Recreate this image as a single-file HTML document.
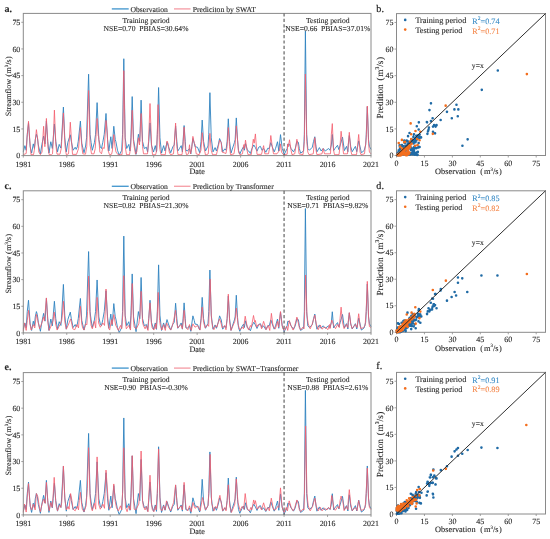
<!DOCTYPE html>
<html><head><meta charset="utf-8"><style>
html,body{margin:0;padding:0;background:#fff;width:550px;height:539px;overflow:hidden}
svg{display:block;will-change:transform}
text{text-rendering:geometricPrecision;font-family:"Liberation Serif", serif;fill:#262626;stroke:#262626;stroke-width:0.1px}
</style></head><body>
<svg width="550" height="539" viewBox="0 0 550 539">
<defs><filter id="soft" x="-5%" y="-5%" width="110%" height="110%"><feGaussianBlur stdDeviation="0.3"/></filter></defs>
<rect width="550" height="539" fill="#fff"/>
<g><polyline points="23.30,151.87 24.90,145.65 26.20,150.27 27.25,134.27 28.50,122.89 30.15,146.71 31.60,153.11 33.30,143.87 34.40,148.49 35.25,139.60 36.40,134.27 37.35,137.29 38.30,144.94 40.40,154.00 41.85,144.76 43.60,136.05 45.00,143.87 46.40,121.12 47.75,141.38 48.95,153.11 50.80,141.74 52.35,148.49 53.15,139.25 54.40,123.96 55.75,141.38 57.50,151.87 59.20,144.40 60.90,148.13 61.45,141.74 63.40,107.07 64.75,137.82 66.30,151.87 67.85,142.27 70.30,134.80 71.25,141.02 73.10,150.27 75.20,147.25 76.20,149.38 77.30,146.89 78.25,141.38 80.40,121.12 81.75,143.16 84.00,152.76 85.60,146.00 86.55,137.82 88.60,74.19 90.05,134.27 91.10,142.62 92.30,150.27 94.40,142.62 95.55,134.27 97.10,102.63 98.85,139.60 100.30,146.89 101.50,148.49 102.80,142.27 104.25,134.27 106.00,113.47 107.55,139.60 108.85,150.98 110.80,136.76 112.10,148.49 113.80,126.27 115.25,139.60 115.90,141.74 117.50,150.27 119.20,155.24 121.70,150.27 122.55,134.27 123.80,58.73 125.15,137.82 126.70,148.49 128.80,144.40 130.00,150.98 130.95,137.82 132.20,96.59 133.55,139.60 136.05,154.36 138.40,134.27 139.80,141.38 141.10,100.14 142.55,141.38 144.30,148.49 146.40,147.25 147.60,152.04 148.75,141.38 150.00,122.89 151.45,144.94 153.50,152.04 155.30,145.65 156.50,152.04 157.35,134.27 158.60,87.52 159.95,137.82 161.50,153.11 163.60,145.65 165.05,150.98 167.00,142.27 168.45,146.71 170.70,152.76 172.80,146.89 174.25,144.94 175.60,125.92 176.85,141.38 177.80,150.98 179.50,148.49 181.20,145.65 182.40,151.87 183.05,141.38 184.10,125.56 185.25,141.38 185.80,150.27 187.40,150.98 189.50,148.49 190.80,154.00 191.75,146.71 192.90,138.54 194.25,143.16 195.00,146.71 197.50,147.25 199.70,152.76 201.05,141.38 202.20,120.05 203.55,141.38 205.50,150.98 208.00,146.00 208.75,134.27 209.90,92.68 211.25,137.82 213.00,151.87 215.10,147.60 216.40,150.98 218.25,144.94 219.60,138.54 221.25,142.62 222.70,151.87 224.80,148.85 226.00,150.27 227.15,141.38 228.30,118.81 229.55,141.38 231.00,153.11 234.40,142.62 235.15,139.60 236.30,117.92 237.55,140.14 238.50,150.27 239.80,154.00 241.90,149.38 243.60,146.71 244.30,150.27 245.50,143.51 247.40,150.27 248.70,150.98 250.40,153.47 252.00,148.49 253.80,144.94 255.40,147.60 257.00,151.16 258.70,147.25 260.40,146.36 262.00,150.27 263.60,148.49 265.80,152.22 267.90,148.13 269.25,148.49 270.80,142.62 272.25,146.71 274.20,151.87 275.55,148.49 277.50,141.74 278.80,150.98 280.50,134.63 282.25,148.49 284.20,154.36 287.20,148.49 287.70,144.05 289.50,144.40 291.00,148.49 293.50,151.87 295.25,148.49 296.90,141.38 298.35,142.27 299.30,148.49 300.60,153.11 303.60,150.98 304.35,134.27 305.40,31.18 306.65,134.27 307.80,148.49 309.40,150.27 312.30,147.25 313.55,141.38 314.80,136.76 316.05,146.71 316.90,151.87 319.40,147.60 321.10,150.98 323.20,148.49 325.30,150.98 328.60,148.49 330.00,150.27 331.35,144.94 332.30,134.45 333.65,150.62 335.00,148.49 337.50,145.29 338.80,149.56 340.25,144.94 342.50,137.11 344.35,150.62 346.50,146.36 347.90,151.69 348.25,144.94 349.30,135.51 350.75,146.71 352.20,151.69 355.40,146.36 356.75,151.69 358.70,140.85 360.05,146.71 361.40,152.76 364.10,150.62 365.70,144.94 366.25,134.27 367.30,106.72 368.55,139.60 369.40,146.36 371.00,149.38" fill="none" stroke="#2f82bf" stroke-width="0.9" stroke-linejoin="round"/>
<polyline points="23.30,154.71 26.20,153.47 27.05,137.82 28.50,121.29 29.85,141.38 31.00,154.71 33.50,154.71 34.35,150.27 36.40,129.65 37.75,139.60 38.80,152.04 40.40,154.71 42.05,152.04 43.60,126.27 44.85,146.71 45.05,143.16 46.40,118.45 48.05,148.49 49.20,154.71 51.50,154.71 52.50,153.82 53.25,141.38 54.40,110.10 55.85,144.94 57.00,154.18 60.00,154.18 61.25,148.49 63.40,112.94 65.05,146.71 66.30,154.71 68.55,153.82 70.30,122.18 71.55,141.38 72.50,154.36 76.50,154.36 78.55,148.49 80.40,127.52 81.45,141.38 81.90,147.25 82.80,153.82 85.50,154.18 86.75,146.71 88.60,90.54 90.05,144.94 91.50,153.82 94.00,153.82 95.25,148.49 97.10,118.45 98.20,136.05 98.60,136.05 99.85,152.04 101.50,153.82 102.80,147.60 104.25,148.49 106.00,120.41 107.25,133.03 108.00,150.27 109.50,154.71 111.60,154.18 112.35,150.98 113.80,134.63 115.05,146.71 116.00,152.04 118.00,154.71 122.00,154.71 122.75,141.38 123.80,70.64 125.25,146.71 126.50,154.71 129.50,154.71 130.75,146.71 132.20,110.27 133.45,141.38 134.20,146.89 135.50,154.18 136.75,152.04 138.40,137.82 139.50,144.94 141.10,113.47 142.55,146.71 143.50,153.82 147.50,153.82 148.55,141.38 150.00,103.52 151.55,144.94 152.50,154.71 155.60,154.71 156.75,150.27 158.10,104.59 159.45,144.94 159.90,149.38 161.00,154.71 165.30,154.71 165.95,148.49 167.00,141.02 168.45,144.40 169.20,152.04 170.50,154.71 173.50,153.82 174.25,143.51 175.60,123.07 176.85,146.71 178.00,154.71 182.00,154.71 182.95,146.71 184.10,127.16 185.45,150.27 186.50,154.71 188.50,153.82 189.50,144.76 190.50,153.82 191.75,148.49 192.90,136.40 194.25,143.16 195.00,144.40 196.20,153.82 199.20,154.71 200.95,150.27 202.20,132.67 203.55,144.94 205.50,155.24 208.25,153.82 209.90,133.38 211.25,150.27 212.50,154.71 216.40,154.71 218.35,146.71 219.60,140.14 221.25,142.62 222.00,152.04 226.00,153.47 227.05,146.71 228.30,127.52 229.55,146.71 230.50,154.71 234.00,153.82 235.05,146.71 236.30,125.92 237.55,140.14 238.50,152.04 239.80,154.71 242.50,153.82 243.60,145.11 244.10,144.40 244.55,148.49 245.50,140.14 247.05,150.27 248.00,154.71 251.25,154.71 253.30,139.25 254.20,143.16 255.40,133.91 256.55,148.49 257.00,154.36 261.50,154.36 263.60,145.65 264.80,153.82 268.50,153.82 269.75,146.71 270.80,135.51 272.25,146.71 273.50,153.82 277.00,153.82 279.50,150.27 280.50,143.87 281.50,152.04 283.50,154.71 287.20,154.18 287.70,144.05 288.35,146.71 289.50,139.78 291.05,150.27 292.00,154.71 294.75,153.82 296.90,139.25 298.25,146.71 299.00,153.82 303.00,154.71 304.35,141.38 305.40,74.01 306.75,141.38 307.80,152.04 309.00,154.71 313.25,153.82 314.80,137.65 316.05,150.27 316.90,154.71 322.00,153.82 323.20,148.49 324.50,153.82 330.50,153.82 331.35,134.27 332.30,123.60 333.55,150.27 334.50,154.71 339.00,154.71 339.95,146.71 341.10,131.25 342.45,143.16 343.50,153.82 347.50,153.82 348.25,144.94 349.30,132.31 350.75,150.27 351.80,154.71 356.50,154.71 357.65,144.94 358.70,134.45 360.05,152.04 361.00,154.71 364.50,153.82 365.70,143.16 366.25,137.82 367.30,106.01 368.55,143.16 369.40,152.04 371.00,153.82" fill="none" stroke="#f45d6d" stroke-width="0.9" stroke-opacity="0.9" stroke-linejoin="round"/></g>
<rect x="23.30" y="13.40" width="347.70" height="142.20" fill="none" stroke="#8a8a8a" stroke-width="1"/>
<line x1="284.07" y1="13.40" x2="284.07" y2="155.60" stroke="#555" stroke-width="1.1" stroke-dasharray="3.2,2.2"/>
<line x1="21.30" y1="155.60" x2="23.30" y2="155.60" stroke="#8a8a8a" stroke-width="0.8"/>
<text x="20.30" y="158.30" font-size="7.9" text-anchor="end">0</text>
<line x1="21.30" y1="128.94" x2="23.30" y2="128.94" stroke="#8a8a8a" stroke-width="0.8"/>
<text x="20.30" y="131.64" font-size="7.9" text-anchor="end">15</text>
<line x1="21.30" y1="102.28" x2="23.30" y2="102.28" stroke="#8a8a8a" stroke-width="0.8"/>
<text x="20.30" y="104.98" font-size="7.9" text-anchor="end">30</text>
<line x1="21.30" y1="75.61" x2="23.30" y2="75.61" stroke="#8a8a8a" stroke-width="0.8"/>
<text x="20.30" y="78.31" font-size="7.9" text-anchor="end">45</text>
<line x1="21.30" y1="48.95" x2="23.30" y2="48.95" stroke="#8a8a8a" stroke-width="0.8"/>
<text x="20.30" y="51.65" font-size="7.9" text-anchor="end">60</text>
<line x1="21.30" y1="22.29" x2="23.30" y2="22.29" stroke="#8a8a8a" stroke-width="0.8"/>
<text x="20.30" y="24.99" font-size="7.9" text-anchor="end">75</text>
<line x1="23.30" y1="155.60" x2="23.30" y2="157.60" stroke="#8a8a8a" stroke-width="0.8"/>
<text x="23.30" y="167.00" font-size="7.9" text-anchor="middle">1981</text>
<line x1="66.76" y1="155.60" x2="66.76" y2="157.60" stroke="#8a8a8a" stroke-width="0.8"/>
<text x="66.76" y="167.00" font-size="7.9" text-anchor="middle">1986</text>
<line x1="110.22" y1="155.60" x2="110.22" y2="157.60" stroke="#8a8a8a" stroke-width="0.8"/>
<text x="110.22" y="167.00" font-size="7.9" text-anchor="middle">1991</text>
<line x1="153.69" y1="155.60" x2="153.69" y2="157.60" stroke="#8a8a8a" stroke-width="0.8"/>
<text x="153.69" y="167.00" font-size="7.9" text-anchor="middle">1996</text>
<line x1="197.15" y1="155.60" x2="197.15" y2="157.60" stroke="#8a8a8a" stroke-width="0.8"/>
<text x="197.15" y="167.00" font-size="7.9" text-anchor="middle">2001</text>
<line x1="240.61" y1="155.60" x2="240.61" y2="157.60" stroke="#8a8a8a" stroke-width="0.8"/>
<text x="240.61" y="167.00" font-size="7.9" text-anchor="middle">2006</text>
<line x1="284.07" y1="155.60" x2="284.07" y2="157.60" stroke="#8a8a8a" stroke-width="0.8"/>
<text x="284.07" y="167.00" font-size="7.9" text-anchor="middle">2011</text>
<line x1="327.54" y1="155.60" x2="327.54" y2="157.60" stroke="#8a8a8a" stroke-width="0.8"/>
<text x="327.54" y="167.00" font-size="7.9" text-anchor="middle">2016</text>
<line x1="371.00" y1="155.60" x2="371.00" y2="157.60" stroke="#8a8a8a" stroke-width="0.8"/>
<text x="371.00" y="167.00" font-size="7.9" text-anchor="middle">2021</text>
<text x="197.15" y="174.20" font-size="8.2" text-anchor="middle">Date</text>
<text transform="translate(11.3,116.20) rotate(-90)" font-size="8.0">Streamflow<tspan dx="2.40">(</tspan><tspan dx="0.40">m</tspan><tspan font-size="4.80" dy="-3.04">3</tspan><tspan dy="3.04">/s</tspan><tspan dx="0.40">)</tspan></text>
<text x="4.5" y="11.70" font-size="10" font-weight="bold">a.</text>
<line x1="111.8" y1="8.90" x2="128.7" y2="8.90" stroke="#4b9bd0" stroke-width="1.4"/>
<text x="130.50" y="11.70" font-size="7.65" text-anchor="start" xml:space="preserve" >Observation</text>
<line x1="174" y1="8.90" x2="190.5" y2="8.90" stroke="#f6a2aa" stroke-width="1.4"/>
<text x="192.70" y="11.70" font-size="7.70" text-anchor="start" xml:space="preserve" >Prediciton by SWAT</text>
<text x="146.00" y="22.60" font-size="7.60" text-anchor="middle" xml:space="preserve" >Training period</text>
<text x="146.00" y="30.70" font-size="7.60" text-anchor="middle" xml:space="preserve" >NSE=0.70  PBIAS=30.64%</text>
<text x="327.80" y="22.60" font-size="7.60" text-anchor="middle" xml:space="preserve" >Testing period</text>
<text x="327.80" y="30.70" font-size="7.60" text-anchor="middle" xml:space="preserve" >NSE=0.66  PBIAS=37.01%</text>
<g><polyline points="23.30,329.17 24.90,322.95 26.20,327.57 27.25,311.58 28.50,300.22 30.15,324.02 31.60,330.41 33.30,321.18 34.40,325.79 35.25,316.91 36.40,311.58 37.35,314.60 38.30,322.24 40.40,331.30 41.85,322.06 43.60,313.36 45.00,321.18 46.40,298.44 47.75,318.69 48.95,330.41 50.80,319.05 52.35,325.79 53.15,316.56 54.40,301.28 55.75,318.69 57.50,329.17 59.20,321.71 60.90,325.44 61.45,319.05 63.40,284.41 64.75,315.14 66.30,329.17 67.85,319.58 70.30,312.12 71.25,318.33 73.10,327.57 75.20,324.55 76.20,326.68 77.30,324.20 78.25,318.69 80.40,298.44 81.75,320.47 84.00,330.06 85.60,323.31 86.55,315.14 88.60,251.55 90.05,311.58 91.10,319.93 92.30,327.57 94.40,319.93 95.55,311.58 97.10,279.97 98.85,316.91 100.30,324.20 101.50,325.79 102.80,319.58 104.25,311.58 106.00,290.80 107.55,316.91 108.85,328.28 110.80,314.07 112.10,325.79 113.80,303.59 115.25,316.91 115.90,319.05 117.50,327.57 119.20,332.54 121.70,327.57 122.55,311.58 123.80,236.09 125.15,315.14 126.70,325.79 128.80,321.71 130.00,328.28 130.95,315.14 132.20,273.93 133.55,316.91 136.05,331.66 138.40,311.58 139.80,318.69 141.10,277.48 142.55,318.69 144.30,325.79 146.40,324.55 147.60,329.35 148.75,318.69 150.00,300.22 151.45,322.24 153.50,329.35 155.30,322.95 156.50,329.35 157.35,311.58 158.60,264.87 159.95,315.14 161.50,330.41 163.60,322.95 165.05,328.28 167.00,319.58 168.45,324.02 170.70,330.06 172.80,324.20 174.25,322.24 175.60,303.24 176.85,318.69 177.80,328.28 179.50,325.79 181.20,322.95 182.40,329.17 183.05,318.69 184.10,302.88 185.25,318.69 185.80,327.57 187.40,328.28 189.50,325.79 190.80,331.30 191.75,324.02 192.90,315.85 194.25,320.47 195.00,324.02 197.50,324.55 199.70,330.06 201.05,318.69 202.20,297.38 203.55,318.69 205.50,328.28 208.00,323.31 208.75,311.58 209.90,270.02 211.25,315.14 213.00,329.17 215.10,324.91 216.40,328.28 218.25,322.24 219.60,315.85 221.25,319.93 222.70,329.17 224.80,326.15 226.00,327.57 227.15,318.69 228.30,296.13 229.55,318.69 231.00,330.41 234.40,319.93 235.15,316.91 236.30,295.24 237.55,317.45 238.50,327.57 239.80,331.30 241.90,326.68 243.60,324.02 244.30,327.57 245.50,320.82 247.40,327.57 248.70,328.28 250.40,330.77 252.00,325.79 253.80,322.24 255.40,324.91 257.00,328.46 258.70,324.55 260.40,323.66 262.00,327.57 263.60,325.79 265.80,329.53 267.90,325.44 269.25,325.79 270.80,319.93 272.25,324.02 274.20,329.17 275.55,325.79 277.50,319.05 278.80,328.28 280.50,311.94 282.25,325.79 284.20,331.66 287.20,325.79 287.70,321.35 289.50,321.71 291.00,325.79 293.50,329.17 295.25,325.79 296.90,318.69 298.35,319.58 299.30,325.79 300.60,330.41 303.60,328.28 304.35,311.58 305.40,208.56 306.65,311.58 307.80,325.79 309.40,327.57 312.30,324.55 313.55,318.69 314.80,314.07 316.05,324.02 316.90,329.17 319.40,324.91 321.10,328.28 323.20,325.79 325.30,328.28 328.60,325.79 330.00,327.57 331.35,322.24 332.30,311.76 333.65,327.93 335.00,325.79 337.50,322.60 338.80,326.86 340.25,322.24 342.50,314.43 344.35,327.93 346.50,323.66 347.90,328.99 348.25,322.24 349.30,312.83 350.75,324.02 352.20,328.99 355.40,323.66 356.75,328.99 358.70,318.16 360.05,324.02 361.40,330.06 364.10,327.93 365.70,322.24 366.25,311.58 367.30,284.05 368.55,316.91 369.40,323.66 371.00,326.68" fill="none" stroke="#2f82bf" stroke-width="0.9" stroke-linejoin="round"/>
<polyline points="23.30,331.30 24.50,322.95 26.20,330.41 27.25,320.47 28.50,310.34 29.95,324.02 31.20,330.06 33.30,324.55 34.75,327.93 36.40,314.25 37.75,320.47 39.60,328.81 41.85,322.95 43.60,316.91 44.45,320.82 45.25,311.58 46.40,297.91 47.85,322.24 49.20,330.41 51.70,324.55 53.05,320.47 54.20,312.12 55.65,324.02 57.10,330.06 60.00,324.55 61.70,320.47 62.35,315.14 63.40,301.28 64.85,322.24 66.30,329.17 68.10,325.44 69.35,322.24 70.60,318.87 71.85,324.02 72.70,328.81 74.80,329.70 76.90,324.55 78.50,327.93 79.25,318.69 80.40,306.26 81.75,324.02 82.70,327.93 84.00,330.06 85.60,323.84 86.90,324.73 87.55,311.58 88.60,276.06 90.05,315.14 91.10,325.44 92.30,328.81 94.40,321.35 95.70,327.93 96.05,318.69 97.10,297.38 98.45,320.47 98.60,322.95 100.30,327.22 102.80,322.95 104.50,325.44 105.05,315.14 106.00,289.03 107.45,318.69 108.60,327.93 109.65,330.06 111.60,319.58 112.10,324.55 113.80,314.60 115.65,325.08 118.40,330.41 120.50,325.44 121.70,328.81 122.75,315.14 123.80,275.70 125.25,321.35 126.30,328.81 128.80,325.44 130.50,330.06 131.15,315.14 132.20,283.52 133.55,322.24 134.20,327.22 136.30,328.81 138.80,323.84 139.95,315.14 141.10,291.34 142.55,322.24 143.40,325.44 145.10,328.81 146.40,325.44 148.00,330.41 148.75,318.69 150.00,302.88 151.45,324.02 152.20,327.93 153.90,330.06 155.60,323.84 156.10,328.81 157.15,318.69 158.20,292.40 159.55,320.47 160.30,325.44 161.90,330.06 163.60,324.55 165.30,330.41 166.50,322.95 168.60,327.22 170.70,330.06 172.40,325.44 173.65,320.47 175.60,310.34 176.95,324.02 177.80,327.93 180.80,324.55 182.40,328.81 183.05,322.24 184.10,310.34 185.45,324.02 186.20,327.93 187.90,329.70 189.50,324.55 191.20,330.41 192.90,323.84 195.00,327.22 197.50,325.44 199.20,328.81 200.10,330.06 201.05,320.47 202.20,307.14 203.55,322.24 205.10,327.93 207.60,324.55 208.70,326.33 209.15,311.58 210.10,279.08 211.45,318.69 212.60,327.22 213.90,329.70 215.60,325.44 216.80,327.22 218.35,322.24 219.70,318.87 221.25,324.02 222.20,327.93 224.80,325.44 226.00,329.70 227.15,318.69 228.30,294.18 229.65,322.24 231.00,330.41 233.10,325.44 234.80,321.35 235.25,318.69 236.30,308.03 237.95,323.84 239.80,330.06 242.30,327.22 243.45,328.81 245.20,316.20 247.25,327.22 248.70,330.06 250.40,325.44 251.35,327.22 253.50,315.49 254.75,322.24 255.40,320.47 256.60,327.22 257.90,324.91 260.40,324.55 261.60,328.81 263.60,321.35 266.20,329.70 268.30,325.44 269.75,330.41 271.40,313.36 272.75,324.02 273.80,327.93 275.40,328.81 277.50,321.35 278.55,327.22 280.50,311.58 281.85,324.02 282.60,327.93 284.20,330.41 286.70,326.33 287.70,330.41 289.30,320.47 291.00,325.79 293.10,330.06 294.55,326.33 296.90,317.09 298.35,322.95 299.30,327.57 300.60,330.06 302.70,327.22 304.00,328.81 304.55,315.14 305.60,274.99 306.95,315.14 308.20,323.84 310.20,328.81 312.05,324.55 314.80,315.14 316.25,324.02 317.40,327.22 318.20,329.70 320.30,325.08 322.00,329.17 324.00,327.22 326.10,327.93 327.80,329.70 329.50,324.55 329.95,328.64 331.80,320.11 334.15,326.51 335.50,328.64 337.70,324.37 339.30,327.57 340.05,318.69 341.10,307.14 342.45,322.24 344.10,328.64 346.30,324.37 347.90,327.57 348.25,322.24 349.30,312.65 350.75,324.02 352.20,328.64 355.40,324.37 357.10,327.57 357.65,322.24 358.70,313.72 360.05,325.79 360.80,328.64 363.50,327.57 365.10,325.44 366.15,311.58 367.30,281.39 368.55,316.91 369.40,326.51 371.00,327.57" fill="none" stroke="#f45d6d" stroke-width="0.9" stroke-opacity="0.9" stroke-linejoin="round"/></g>
<rect x="23.30" y="190.80" width="347.70" height="142.10" fill="none" stroke="#8a8a8a" stroke-width="1"/>
<line x1="284.07" y1="190.80" x2="284.07" y2="332.90" stroke="#555" stroke-width="1.1" stroke-dasharray="3.2,2.2"/>
<line x1="21.30" y1="332.90" x2="23.30" y2="332.90" stroke="#8a8a8a" stroke-width="0.8"/>
<text x="20.30" y="335.60" font-size="7.9" text-anchor="end">0</text>
<line x1="21.30" y1="306.26" x2="23.30" y2="306.26" stroke="#8a8a8a" stroke-width="0.8"/>
<text x="20.30" y="308.96" font-size="7.9" text-anchor="end">15</text>
<line x1="21.30" y1="279.61" x2="23.30" y2="279.61" stroke="#8a8a8a" stroke-width="0.8"/>
<text x="20.30" y="282.31" font-size="7.9" text-anchor="end">30</text>
<line x1="21.30" y1="252.97" x2="23.30" y2="252.97" stroke="#8a8a8a" stroke-width="0.8"/>
<text x="20.30" y="255.67" font-size="7.9" text-anchor="end">45</text>
<line x1="21.30" y1="226.32" x2="23.30" y2="226.32" stroke="#8a8a8a" stroke-width="0.8"/>
<text x="20.30" y="229.02" font-size="7.9" text-anchor="end">60</text>
<line x1="21.30" y1="199.68" x2="23.30" y2="199.68" stroke="#8a8a8a" stroke-width="0.8"/>
<text x="20.30" y="202.38" font-size="7.9" text-anchor="end">75</text>
<line x1="23.30" y1="332.90" x2="23.30" y2="334.90" stroke="#8a8a8a" stroke-width="0.8"/>
<text x="23.30" y="344.30" font-size="7.9" text-anchor="middle">1981</text>
<line x1="66.76" y1="332.90" x2="66.76" y2="334.90" stroke="#8a8a8a" stroke-width="0.8"/>
<text x="66.76" y="344.30" font-size="7.9" text-anchor="middle">1986</text>
<line x1="110.22" y1="332.90" x2="110.22" y2="334.90" stroke="#8a8a8a" stroke-width="0.8"/>
<text x="110.22" y="344.30" font-size="7.9" text-anchor="middle">1991</text>
<line x1="153.69" y1="332.90" x2="153.69" y2="334.90" stroke="#8a8a8a" stroke-width="0.8"/>
<text x="153.69" y="344.30" font-size="7.9" text-anchor="middle">1996</text>
<line x1="197.15" y1="332.90" x2="197.15" y2="334.90" stroke="#8a8a8a" stroke-width="0.8"/>
<text x="197.15" y="344.30" font-size="7.9" text-anchor="middle">2001</text>
<line x1="240.61" y1="332.90" x2="240.61" y2="334.90" stroke="#8a8a8a" stroke-width="0.8"/>
<text x="240.61" y="344.30" font-size="7.9" text-anchor="middle">2006</text>
<line x1="284.07" y1="332.90" x2="284.07" y2="334.90" stroke="#8a8a8a" stroke-width="0.8"/>
<text x="284.07" y="344.30" font-size="7.9" text-anchor="middle">2011</text>
<line x1="327.54" y1="332.90" x2="327.54" y2="334.90" stroke="#8a8a8a" stroke-width="0.8"/>
<text x="327.54" y="344.30" font-size="7.9" text-anchor="middle">2016</text>
<line x1="371.00" y1="332.90" x2="371.00" y2="334.90" stroke="#8a8a8a" stroke-width="0.8"/>
<text x="371.00" y="344.30" font-size="7.9" text-anchor="middle">2021</text>
<text x="197.15" y="351.50" font-size="8.2" text-anchor="middle">Date</text>
<text transform="translate(11.3,293.60) rotate(-90)" font-size="8.0">Streamflow<tspan dx="2.40">(</tspan><tspan dx="0.40">m</tspan><tspan font-size="4.80" dy="-3.04">3</tspan><tspan dy="3.04">/s</tspan><tspan dx="0.40">)</tspan></text>
<text x="4.5" y="189.20" font-size="10" font-weight="bold">c.</text>
<line x1="111.8" y1="186.30" x2="128.7" y2="186.30" stroke="#4b9bd0" stroke-width="1.4"/>
<text x="130.50" y="189.10" font-size="7.65" text-anchor="start" xml:space="preserve" >Observation</text>
<line x1="174" y1="186.30" x2="190.5" y2="186.30" stroke="#f6a2aa" stroke-width="1.4"/>
<text x="192.70" y="189.10" font-size="7.70" text-anchor="start" xml:space="preserve" >Prediction by Transformer</text>
<text x="146.00" y="200.00" font-size="7.60" text-anchor="middle" xml:space="preserve" >Training period</text>
<text x="146.00" y="208.10" font-size="7.60" text-anchor="middle" xml:space="preserve" >NSE=0.82  PBIAS=21.30%</text>
<text x="327.80" y="200.00" font-size="7.60" text-anchor="middle" xml:space="preserve" >Testing period</text>
<text x="327.80" y="208.10" font-size="7.60" text-anchor="middle" xml:space="preserve" >NSE=0.71  PBIAS=9.82%</text>
<g><polyline points="23.30,511.16 24.90,504.94 26.20,509.56 27.25,493.56 28.50,482.17 30.15,506.01 31.60,512.41 33.30,503.16 34.40,507.78 35.25,498.89 36.40,493.56 37.35,496.58 38.30,504.23 40.40,513.30 41.85,504.05 43.60,495.33 45.00,503.16 46.40,480.39 47.75,500.67 48.95,512.41 50.80,501.03 52.35,507.78 53.15,498.54 54.40,483.24 55.75,500.67 57.50,511.16 59.20,503.69 60.90,507.43 61.45,501.03 63.40,466.34 64.75,497.11 66.30,511.16 67.85,501.56 70.30,494.09 71.25,500.31 73.10,509.56 75.20,506.54 76.20,508.67 77.30,506.18 78.25,500.67 80.40,480.39 81.75,502.45 84.00,512.05 85.60,505.29 86.55,497.11 88.60,433.43 90.05,493.56 91.10,501.92 92.30,509.56 94.40,501.92 95.55,493.56 97.10,461.89 98.85,498.89 100.30,506.18 101.50,507.78 102.80,501.56 104.25,493.56 106.00,472.74 107.55,498.89 108.85,510.28 110.80,496.05 112.10,507.78 113.80,485.55 115.25,498.89 115.90,501.03 117.50,509.56 119.20,514.54 121.70,509.56 122.55,493.56 123.80,417.96 125.15,497.11 126.70,507.78 128.80,503.69 130.00,510.28 130.95,497.11 132.20,455.85 133.55,498.89 136.05,513.65 138.40,493.56 139.80,500.67 141.10,459.40 142.55,500.67 144.30,507.78 146.40,506.54 147.60,511.34 148.75,500.67 150.00,482.17 151.45,504.23 153.50,511.34 155.30,504.94 156.50,511.34 157.35,493.56 158.60,446.77 159.95,497.11 161.50,512.41 163.60,504.94 165.05,510.28 167.00,501.56 168.45,506.01 170.70,512.05 172.80,506.18 174.25,504.23 175.60,485.19 176.85,500.67 177.80,510.28 179.50,507.78 181.20,504.94 182.40,511.16 183.05,500.67 184.10,484.84 185.25,500.67 185.80,509.56 187.40,510.28 189.50,507.78 190.80,513.30 191.75,506.01 192.90,497.82 194.25,502.45 195.00,506.01 197.50,506.54 199.70,512.05 201.05,500.67 202.20,479.32 203.55,500.67 205.50,510.28 208.00,505.29 208.75,493.56 209.90,451.93 211.25,497.11 213.00,511.16 215.10,506.90 216.40,510.28 218.25,504.23 219.60,497.82 221.25,501.92 222.70,511.16 224.80,508.14 226.00,509.56 227.15,500.67 228.30,478.08 229.55,500.67 231.00,512.41 234.40,501.92 235.15,498.89 236.30,477.19 237.55,499.42 238.50,509.56 239.80,513.30 241.90,508.67 243.60,506.01 244.30,509.56 245.50,502.80 247.40,509.56 248.70,510.28 250.40,512.77 252.00,507.78 253.80,504.23 255.40,506.90 257.00,510.45 258.70,506.54 260.40,505.65 262.00,509.56 263.60,507.78 265.80,511.52 267.90,507.43 269.25,507.78 270.80,501.92 272.25,506.01 274.20,511.16 275.55,507.78 277.50,501.03 278.80,510.28 280.50,493.91 282.25,507.78 284.20,513.65 287.20,507.78 287.70,503.34 289.50,503.69 291.00,507.78 293.50,511.16 295.25,507.78 296.90,500.67 298.35,501.56 299.30,507.78 300.60,512.41 303.60,510.28 304.35,493.56 305.40,390.39 306.65,493.56 307.80,507.78 309.40,509.56 312.30,506.54 313.55,500.67 314.80,496.05 316.05,506.01 316.90,511.16 319.40,506.90 321.10,510.28 323.20,507.78 325.30,510.28 328.60,507.78 330.00,509.56 331.35,504.23 332.30,493.73 333.65,509.92 335.00,507.78 337.50,504.58 338.80,508.85 340.25,504.23 342.50,496.40 344.35,509.92 346.50,505.65 347.90,510.99 348.25,504.23 349.30,494.80 350.75,506.01 352.20,510.99 355.40,505.65 356.75,510.99 358.70,500.14 360.05,506.01 361.40,512.05 364.10,509.92 365.70,504.23 366.25,493.56 367.30,465.98 368.55,498.89 369.40,505.65 371.00,508.67" fill="none" stroke="#2f82bf" stroke-width="0.9" stroke-linejoin="round"/>
<polyline points="23.30,512.41 24.50,504.05 26.20,512.05 27.25,497.11 28.50,483.59 29.75,500.67 30.40,506.54 31.60,509.92 33.30,504.05 35.15,509.92 36.40,493.56 37.75,496.58 39.60,508.32 40.40,511.70 41.85,504.94 43.60,499.07 45.25,503.34 45.45,497.11 46.40,482.35 47.85,502.45 49.20,510.81 50.80,502.45 52.10,507.43 53.05,497.11 54.20,477.37 55.65,500.67 56.30,506.54 57.50,510.81 59.60,504.94 60.90,507.43 61.70,502.45 62.35,490.00 63.40,465.98 64.85,498.89 66.30,509.92 68.10,506.54 69.05,509.21 70.60,493.56 71.65,499.07 73.10,509.21 75.20,510.81 77.30,506.18 78.50,509.92 79.25,500.67 80.40,492.31 81.65,504.23 82.30,509.21 84.00,511.70 86.10,505.83 87.35,488.22 88.60,447.66 90.05,497.11 91.10,506.54 92.30,510.81 94.40,503.34 95.70,509.21 96.05,493.56 97.10,456.91 98.45,500.67 98.60,504.05 100.30,509.21 102.80,504.05 104.50,508.32 105.05,493.56 106.00,470.08 107.65,493.20 108.40,504.23 109.50,509.21 111.60,505.83 112.10,504.94 112.75,497.11 113.80,483.95 115.25,501.56 116.50,507.78 118.40,510.81 120.50,505.83 121.70,509.92 122.75,490.00 123.80,447.84 125.15,498.89 125.50,507.43 127.10,511.70 128.80,505.83 130.50,509.92 131.15,493.56 132.20,455.67 133.55,500.67 134.20,509.21 135.90,509.92 138.80,504.05 139.95,490.00 141.10,451.04 142.55,500.67 143.40,506.54 145.10,509.92 146.40,506.54 148.00,511.70 148.75,497.11 150.00,475.23 151.45,502.45 152.20,509.21 153.90,511.70 155.60,505.83 156.10,509.92 157.25,493.56 158.60,449.09 159.95,498.89 160.30,508.32 161.90,510.81 163.60,505.83 165.05,509.92 166.50,500.85 168.85,508.32 170.70,510.81 172.40,505.83 173.65,502.45 175.60,484.84 176.95,502.45 177.80,509.21 181.20,505.83 182.40,509.92 183.05,500.67 184.10,482.35 185.45,502.45 186.20,509.21 187.90,510.81 189.50,505.83 191.20,511.70 192.90,502.45 195.00,508.32 197.90,506.18 199.60,509.21 200.10,510.81 201.35,504.23 202.60,497.47 203.85,504.23 205.50,509.92 208.00,505.83 209.05,490.00 210.10,454.42 211.65,503.34 213.90,510.81 215.60,506.54 216.80,508.32 218.55,500.67 219.90,495.33 221.45,504.23 222.70,510.81 224.80,507.43 226.00,510.81 227.15,500.67 228.30,484.84 229.75,506.01 231.40,512.41 233.50,507.43 234.80,504.05 235.25,493.56 236.30,478.97 237.95,502.45 240.20,510.81 241.90,506.54 243.60,507.43 243.70,509.21 245.20,493.56 246.55,504.23 247.40,509.21 249.50,510.81 250.80,507.43 251.75,509.92 253.70,499.96 254.60,504.23 255.40,500.67 257.25,509.21 259.60,506.54 261.60,509.92 263.60,502.80 265.80,510.81 267.90,507.43 269.35,510.81 271.30,498.18 272.75,506.01 273.80,509.92 275.40,509.92 277.50,506.54 278.80,507.43 279.45,500.67 280.50,487.86 281.95,506.01 283.00,509.92 284.20,512.41 286.30,507.43 287.45,510.81 289.20,500.85 291.25,507.78 293.10,510.81 294.55,508.32 296.90,499.96 298.35,504.05 299.30,509.56 300.60,511.70 302.70,509.21 304.00,509.92 304.55,490.00 305.60,425.96 306.95,493.56 308.20,505.83 310.20,510.81 312.55,506.54 314.80,498.18 316.25,506.01 317.40,509.21 318.20,510.81 320.30,507.43 322.00,510.81 324.50,508.32 327.00,509.92 328.60,507.43 330.30,509.21 331.35,498.89 331.80,495.51 334.15,509.56 335.50,510.10 337.70,506.36 339.30,508.50 340.05,500.67 341.10,496.05 342.75,500.67 344.10,510.63 346.30,506.36 347.90,509.56 348.25,500.67 349.30,489.64 350.75,504.23 352.20,510.63 355.40,507.43 357.10,510.63 357.65,506.01 358.70,500.49 360.05,507.78 361.40,510.63 364.10,509.03 365.10,507.43 366.15,493.56 367.30,468.12 368.55,498.89 369.40,507.43 371.00,509.56" fill="none" stroke="#f45d6d" stroke-width="0.9" stroke-opacity="0.9" stroke-linejoin="round"/></g>
<rect x="23.30" y="372.60" width="347.70" height="142.30" fill="none" stroke="#8a8a8a" stroke-width="1"/>
<line x1="284.07" y1="372.60" x2="284.07" y2="514.90" stroke="#555" stroke-width="1.1" stroke-dasharray="3.2,2.2"/>
<line x1="21.30" y1="514.90" x2="23.30" y2="514.90" stroke="#8a8a8a" stroke-width="0.8"/>
<text x="20.30" y="517.60" font-size="7.9" text-anchor="end">0</text>
<line x1="21.30" y1="488.22" x2="23.30" y2="488.22" stroke="#8a8a8a" stroke-width="0.8"/>
<text x="20.30" y="490.92" font-size="7.9" text-anchor="end">15</text>
<line x1="21.30" y1="461.54" x2="23.30" y2="461.54" stroke="#8a8a8a" stroke-width="0.8"/>
<text x="20.30" y="464.24" font-size="7.9" text-anchor="end">30</text>
<line x1="21.30" y1="434.86" x2="23.30" y2="434.86" stroke="#8a8a8a" stroke-width="0.8"/>
<text x="20.30" y="437.56" font-size="7.9" text-anchor="end">45</text>
<line x1="21.30" y1="408.18" x2="23.30" y2="408.18" stroke="#8a8a8a" stroke-width="0.8"/>
<text x="20.30" y="410.88" font-size="7.9" text-anchor="end">60</text>
<line x1="21.30" y1="381.49" x2="23.30" y2="381.49" stroke="#8a8a8a" stroke-width="0.8"/>
<text x="20.30" y="384.19" font-size="7.9" text-anchor="end">75</text>
<line x1="23.30" y1="514.90" x2="23.30" y2="516.90" stroke="#8a8a8a" stroke-width="0.8"/>
<text x="23.30" y="526.30" font-size="7.9" text-anchor="middle">1981</text>
<line x1="66.76" y1="514.90" x2="66.76" y2="516.90" stroke="#8a8a8a" stroke-width="0.8"/>
<text x="66.76" y="526.30" font-size="7.9" text-anchor="middle">1986</text>
<line x1="110.22" y1="514.90" x2="110.22" y2="516.90" stroke="#8a8a8a" stroke-width="0.8"/>
<text x="110.22" y="526.30" font-size="7.9" text-anchor="middle">1991</text>
<line x1="153.69" y1="514.90" x2="153.69" y2="516.90" stroke="#8a8a8a" stroke-width="0.8"/>
<text x="153.69" y="526.30" font-size="7.9" text-anchor="middle">1996</text>
<line x1="197.15" y1="514.90" x2="197.15" y2="516.90" stroke="#8a8a8a" stroke-width="0.8"/>
<text x="197.15" y="526.30" font-size="7.9" text-anchor="middle">2001</text>
<line x1="240.61" y1="514.90" x2="240.61" y2="516.90" stroke="#8a8a8a" stroke-width="0.8"/>
<text x="240.61" y="526.30" font-size="7.9" text-anchor="middle">2006</text>
<line x1="284.07" y1="514.90" x2="284.07" y2="516.90" stroke="#8a8a8a" stroke-width="0.8"/>
<text x="284.07" y="526.30" font-size="7.9" text-anchor="middle">2011</text>
<line x1="327.54" y1="514.90" x2="327.54" y2="516.90" stroke="#8a8a8a" stroke-width="0.8"/>
<text x="327.54" y="526.30" font-size="7.9" text-anchor="middle">2016</text>
<line x1="371.00" y1="514.90" x2="371.00" y2="516.90" stroke="#8a8a8a" stroke-width="0.8"/>
<text x="371.00" y="526.30" font-size="7.9" text-anchor="middle">2021</text>
<text x="197.15" y="533.50" font-size="8.2" text-anchor="middle">Date</text>
<text transform="translate(11.3,475.40) rotate(-90)" font-size="8.0">Streamflow<tspan dx="2.40">(</tspan><tspan dx="0.40">m</tspan><tspan font-size="4.80" dy="-3.04">3</tspan><tspan dy="3.04">/s</tspan><tspan dx="0.40">)</tspan></text>
<text x="4.5" y="369.60" font-size="10" font-weight="bold">e.</text>
<line x1="111.8" y1="368.10" x2="128.7" y2="368.10" stroke="#4b9bd0" stroke-width="1.4"/>
<text x="130.50" y="370.90" font-size="7.65" text-anchor="start" xml:space="preserve" >Observation</text>
<line x1="174" y1="368.10" x2="190.5" y2="368.10" stroke="#f6a2aa" stroke-width="1.4"/>
<text x="192.70" y="370.90" font-size="7.70" text-anchor="start" xml:space="preserve" >Prediction by SWAT−Transformer</text>
<text x="146.00" y="381.80" font-size="7.60" text-anchor="middle" xml:space="preserve" >Training period</text>
<text x="146.00" y="389.90" font-size="7.60" text-anchor="middle" xml:space="preserve" >NSE=0.90  PBIAS=-0.30%</text>
<text x="327.80" y="381.80" font-size="7.60" text-anchor="middle" xml:space="preserve" >Testing period</text>
<text x="327.80" y="389.90" font-size="7.60" text-anchor="middle" xml:space="preserve" >NSE=0.88  PBIAS=2.61%</text>
<rect x="396.50" y="13.60" width="149.00" height="141.90" fill="none" stroke="#8a8a8a" stroke-width="1"/>
<line x1="394.50" y1="155.50" x2="396.50" y2="155.50" stroke="#8a8a8a" stroke-width="0.8"/>
<text x="393.50" y="158.20" font-size="8" text-anchor="end">0</text>
<line x1="396.50" y1="155.50" x2="396.50" y2="157.50" stroke="#8a8a8a" stroke-width="0.8"/>
<text x="396.50" y="165.60" font-size="8" text-anchor="middle">0</text>
<line x1="394.50" y1="128.89" x2="396.50" y2="128.89" stroke="#8a8a8a" stroke-width="0.8"/>
<text x="393.50" y="131.59" font-size="8" text-anchor="end">15</text>
<line x1="424.44" y1="155.50" x2="424.44" y2="157.50" stroke="#8a8a8a" stroke-width="0.8"/>
<text x="424.44" y="165.60" font-size="8" text-anchor="middle">15</text>
<line x1="394.50" y1="102.29" x2="396.50" y2="102.29" stroke="#8a8a8a" stroke-width="0.8"/>
<text x="393.50" y="104.99" font-size="8" text-anchor="end">30</text>
<line x1="452.38" y1="155.50" x2="452.38" y2="157.50" stroke="#8a8a8a" stroke-width="0.8"/>
<text x="452.38" y="165.60" font-size="8" text-anchor="middle">30</text>
<line x1="394.50" y1="75.68" x2="396.50" y2="75.68" stroke="#8a8a8a" stroke-width="0.8"/>
<text x="393.50" y="78.38" font-size="8" text-anchor="end">45</text>
<line x1="480.31" y1="155.50" x2="480.31" y2="157.50" stroke="#8a8a8a" stroke-width="0.8"/>
<text x="480.31" y="165.60" font-size="8" text-anchor="middle">45</text>
<line x1="394.50" y1="49.07" x2="396.50" y2="49.07" stroke="#8a8a8a" stroke-width="0.8"/>
<text x="393.50" y="51.77" font-size="8" text-anchor="end">60</text>
<line x1="508.25" y1="155.50" x2="508.25" y2="157.50" stroke="#8a8a8a" stroke-width="0.8"/>
<text x="508.25" y="165.60" font-size="8" text-anchor="middle">60</text>
<line x1="394.50" y1="22.47" x2="396.50" y2="22.47" stroke="#8a8a8a" stroke-width="0.8"/>
<text x="393.50" y="25.17" font-size="8" text-anchor="end">75</text>
<line x1="536.19" y1="155.50" x2="536.19" y2="157.50" stroke="#8a8a8a" stroke-width="0.8"/>
<text x="536.19" y="165.60" font-size="8" text-anchor="middle">75</text>
<path d="M497.82 70.54h0M481.80 89.87h0M430.96 103.35h0M429.47 110.09h0M456.47 104.77h0M454.42 109.38h0M458.34 109.38h0M446.97 111.87h0M457.78 116.30h0M451.82 118.25h0M440.64 120.03h0M432.63 118.25h0M430.96 121.09h0M426.86 121.98h0M434.12 125.17h0M436.54 125.17h0M433.00 126.59h0M435.61 126.59h0M428.91 127.65h0M428.53 129.78h0M427.98 131.20h0M433.00 131.73h0M435.05 133.33h0M427.42 133.86h0M467.65 139.36h0M462.43 145.74h0M418.85 122.33h0M427.05 122.33h0M416.80 126.23h0M418.66 129.43h0M409.54 132.97h0M408.05 136.17h0M414.01 134.22h0M417.92 136.17h0M419.97 137.76h0M421.08 137.41h0M415.50 142.20h0M418.66 143.08h0M419.60 146.99h0M404.32 140.60h0M406.74 140.60h0M408.42 141.49h0M399.67 145.39h0M401.90 145.03h0M403.58 146.28h0M409.91 146.99h0M412.33 148.58h0M414.01 151.07h0M410.84 153.37h0M414.75 154.26h0M417.17 154.97h0M398.74 150.18h0M397.99 152.66h0M416.51 138.13h0M407.99 148.09h0M415.26 138.79h0M403.64 154.32h0M407.90 143.51h0M404.51 141.00h0M404.06 148.88h0M418.48 138.30h0M398.98 151.86h0M407.74 148.19h0M403.05 149.83h0M404.57 142.55h0M412.12 141.29h0M419.62 134.65h0M413.82 141.91h0M407.51 147.36h0M401.12 153.92h0M417.26 135.55h0M399.10 155.15h0M415.44 140.95h0M413.42 139.99h0M406.39 150.55h0M405.10 151.30h0M399.00 153.78h0M413.43 136.73h0M402.01 151.23h0M419.40 135.36h0M397.27 154.41h0M408.58 148.28h0M410.10 145.51h0M411.16 142.73h0M408.79 148.40h0M397.08 155.15h0M399.56 150.03h0M409.17 147.66h0M406.00 149.61h0M411.48 139.39h0M398.96 153.14h0M416.80 136.12h0M405.52 153.39h0M416.39 139.07h0M398.67 154.82h0M403.02 148.37h0M405.74 145.87h0M401.96 150.02h0M413.60 143.54h0M398.87 152.68h0M407.38 145.59h0M405.09 150.32h0M415.86 139.04h0M398.75 150.50h0M413.45 136.92h0M410.03 142.31h0M415.49 141.48h0M406.82 146.89h0M405.24 148.76h0M419.09 136.95h0M399.82 146.73h0M418.48 136.79h0M398.54 155.15h0M411.39 141.34h0M400.44 152.96h0M410.19 144.59h0M406.46 148.20h0M407.64 144.18h0M400.60 153.33h0M405.33 150.24h0M403.74 149.66h0M405.38 142.33h0M402.93 150.45h0M416.31 135.86h0M401.25 152.84h0M398.07 153.66h0M402.00 145.68h0M404.83 143.12h0M416.38 140.43h0M416.94 135.83h0M418.80 135.08h0M400.60 153.11h0M399.93 148.81h0M416.93 152.24h0M414.55 148.49h0M411.90 150.29h0M410.18 154.45h0M410.66 147.56h0M413.98 147.27h0M412.79 152.79h0M416.47 148.10h0M407.81 149.44h0M408.70 154.17h0M417.57 154.80h0M410.35 146.73h0M412.38 154.16h0M409.55 153.09h0M415.99 154.27h0M417.85 151.92h0M418.52 147.40h0M410.96 152.99h0M413.01 154.29h0M414.96 154.81h0M407.79 146.78h0M410.98 150.07h0M412.70 152.48h0M408.38 147.37h0M418.51 146.89h0M408.92 153.31h0M414.58 146.80h0M413.74 149.29h0M415.07 152.94h0M413.73 152.53h0" stroke="#1f6aa5" stroke-width="2.6" stroke-linecap="round"/>
<path d="M526.88 74.08h0M445.67 105.66h0M432.82 133.86h0M410.65 123.40h0M398.74 143.08h0M401.90 139.89h0M404.14 142.20h0M411.21 134.22h0M415.50 131.02h0M420.34 131.73h0M417.17 139.00h0M419.60 140.25h0M415.12 145.74h0M417.55 145.03h0M411.59 143.79h0M411.21 139.00h0M401.90 148.58h0M400.50 155.22h0M400.96 151.74h0M403.17 151.77h0M405.75 148.04h0M402.41 153.95h0M401.57 154.12h0M408.45 146.35h0M401.25 154.14h0M404.44 151.56h0M405.13 153.69h0M397.51 155.29h0M398.20 154.70h0M398.18 155.39h0M405.65 153.22h0M407.72 150.76h0M408.65 153.91h0M403.88 150.47h0M398.26 154.06h0M399.54 153.48h0M410.27 147.05h0M401.47 155.04h0M404.05 149.55h0M401.13 151.96h0M399.12 153.46h0M397.66 155.18h0M409.19 147.23h0M409.24 146.85h0M407.11 149.23h0M399.60 154.35h0M399.33 153.76h0M406.08 153.43h0M398.10 154.18h0M407.93 150.12h0M404.40 149.73h0M403.24 153.21h0M401.72 154.35h0M397.57 154.91h0M402.76 152.44h0M398.07 155.02h0M399.07 155.22h0M400.67 152.54h0M402.51 153.44h0M405.34 153.73h0M397.34 155.12h0M403.87 151.40h0M403.04 151.65h0M406.92 153.37h0M403.79 152.51h0M400.22 154.19h0M404.66 149.16h0M409.38 152.67h0M405.79 155.12h0M398.19 154.76h0M408.85 153.86h0M407.37 147.27h0M401.37 152.61h0M408.47 151.69h0M406.52 149.18h0M405.11 149.18h0M409.10 145.62h0M404.80 154.25h0M400.56 154.74h0M404.78 150.12h0M397.93 154.66h0M406.73 152.45h0M404.06 154.43h0M406.90 155.14h0M410.22 147.19h0M405.56 153.42h0M409.32 145.63h0M400.44 155.50h0M409.92 141.86h0M408.80 148.23h0M404.99 141.92h0M404.06 152.27h0M410.32 145.11h0M403.21 149.09h0M400.24 146.63h0M400.14 155.50h0M407.31 147.35h0M402.77 149.40h0M402.06 150.73h0" stroke="#f36e1e" stroke-width="2.6" stroke-linecap="round"/>
<line x1="396.50" y1="155.50" x2="545.50" y2="13.60" stroke="#222" stroke-width="0.95"/>
<text x="477.8" y="67.60" font-size="7.6" text-anchor="middle">y=x</text>
<circle cx="405.20" cy="19.90" r="1.3" fill="#1f6aa5"/>
<circle cx="405.20" cy="29.60" r="1.3" fill="#f36e1e"/>
<text x="415.4" y="23.00" font-size="8.2">Training period</text>
<text x="415.4" y="32.70" font-size="8.2">Testing period</text>
<text x="472.3" y="23.70" font-size="8.2" style="fill:#3a8cc6;stroke:#3a8cc6">R<tspan font-size="5.6" dy="-3.3">2</tspan><tspan dy="3.3">=0.74</tspan></text>
<text x="472.3" y="33.50" font-size="8.2" style="fill:#f4874a;stroke:#f4874a">R<tspan font-size="5.6" dy="-3.3">2</tspan><tspan dy="3.3">=0.71</tspan></text>
<text x="435.1" y="173.70" font-size="8.3">Observation<tspan dx="4.57">(</tspan><tspan dx="1.00">m</tspan><tspan font-size="4.98" dy="-3.15">3</tspan><tspan dy="3.15">/s</tspan><tspan dx="0.42">)</tspan></text>
<text transform="translate(383.0,118.40) rotate(-90)" font-size="9.30">Predition<tspan dx="3.72">(</tspan><tspan dx="0.74">m</tspan><tspan font-size="5.58" dy="-3.53">3</tspan><tspan dy="3.53">/s</tspan><tspan dx="0.47">)</tspan></text>
<text x="376.3" y="11.60" font-size="10.2" style="stroke-width:0.2px">b.</text>
<rect x="396.50" y="190.80" width="149.00" height="141.50" fill="none" stroke="#8a8a8a" stroke-width="1"/>
<line x1="394.50" y1="332.30" x2="396.50" y2="332.30" stroke="#8a8a8a" stroke-width="0.8"/>
<text x="393.50" y="335.00" font-size="8" text-anchor="end">0</text>
<line x1="396.50" y1="332.30" x2="396.50" y2="334.30" stroke="#8a8a8a" stroke-width="0.8"/>
<text x="396.50" y="342.40" font-size="8" text-anchor="middle">0</text>
<line x1="394.50" y1="305.77" x2="396.50" y2="305.77" stroke="#8a8a8a" stroke-width="0.8"/>
<text x="393.50" y="308.47" font-size="8" text-anchor="end">15</text>
<line x1="424.44" y1="332.30" x2="424.44" y2="334.30" stroke="#8a8a8a" stroke-width="0.8"/>
<text x="424.44" y="342.40" font-size="8" text-anchor="middle">15</text>
<line x1="394.50" y1="279.24" x2="396.50" y2="279.24" stroke="#8a8a8a" stroke-width="0.8"/>
<text x="393.50" y="281.94" font-size="8" text-anchor="end">30</text>
<line x1="452.38" y1="332.30" x2="452.38" y2="334.30" stroke="#8a8a8a" stroke-width="0.8"/>
<text x="452.38" y="342.40" font-size="8" text-anchor="middle">30</text>
<line x1="394.50" y1="252.71" x2="396.50" y2="252.71" stroke="#8a8a8a" stroke-width="0.8"/>
<text x="393.50" y="255.41" font-size="8" text-anchor="end">45</text>
<line x1="480.31" y1="332.30" x2="480.31" y2="334.30" stroke="#8a8a8a" stroke-width="0.8"/>
<text x="480.31" y="342.40" font-size="8" text-anchor="middle">45</text>
<line x1="394.50" y1="226.18" x2="396.50" y2="226.18" stroke="#8a8a8a" stroke-width="0.8"/>
<text x="393.50" y="228.88" font-size="8" text-anchor="end">60</text>
<line x1="508.25" y1="332.30" x2="508.25" y2="334.30" stroke="#8a8a8a" stroke-width="0.8"/>
<text x="508.25" y="342.40" font-size="8" text-anchor="middle">60</text>
<line x1="394.50" y1="199.64" x2="396.50" y2="199.64" stroke="#8a8a8a" stroke-width="0.8"/>
<text x="393.50" y="202.34" font-size="8" text-anchor="end">75</text>
<line x1="536.19" y1="332.30" x2="536.19" y2="334.30" stroke="#8a8a8a" stroke-width="0.8"/>
<text x="536.19" y="342.40" font-size="8" text-anchor="middle">75</text>
<path d="M481.43 275.52h0M497.45 275.52h0M457.96 277.47h0M462.25 278.35h0M457.96 282.78h0M467.27 291.97h0M454.61 291.97h0M456.10 295.51h0M451.63 296.93h0M446.97 300.64h0M440.83 288.97h0M435.05 294.10h0M432.26 298.52h0M430.77 302.76h0M433.56 304.35h0M435.05 305.06h0M432.82 306.30h0M436.54 308.25h0M428.53 308.25h0M430.02 310.19h0M431.33 309.48h0M427.79 311.25h0M429.28 311.43h0M427.05 313.73h0M440.64 290.56h0M435.61 294.10h0M433.00 298.69h0M433.94 304.18h0M434.31 305.95h0M432.45 307.36h0M429.84 310.01h0M432.07 309.48h0M427.05 314.08h0M418.85 309.13h0M407.49 312.67h0M420.34 314.44h0M421.27 316.38h0M413.45 319.03h0M415.68 320.10h0M418.48 321.33h0M420.34 322.75h0M410.28 325.58h0M415.68 328.23h0M411.21 329.12h0M403.39 320.98h0M403.95 322.75h0M403.59 327.20h0M416.82 317.21h0M411.39 324.92h0M399.70 330.63h0M406.37 326.26h0M405.80 328.00h0M397.91 332.02h0M408.06 324.60h0M406.23 328.27h0M397.62 331.99h0M400.29 332.12h0M401.00 326.55h0M411.05 321.81h0M401.00 328.27h0M397.87 329.73h0M401.43 329.19h0M408.65 325.95h0M399.70 329.90h0M417.94 313.63h0M418.83 317.08h0M398.80 330.39h0M413.61 316.39h0M418.62 310.49h0M419.70 315.53h0M412.47 323.19h0M404.44 325.44h0M407.47 324.72h0M400.80 329.91h0M414.68 324.22h0M412.50 320.42h0M405.39 323.01h0M405.59 325.33h0M405.29 329.35h0M405.63 323.40h0M412.97 314.06h0M414.31 315.48h0M403.11 326.68h0M413.42 320.88h0M398.08 329.58h0M405.20 325.79h0M401.98 329.44h0M397.79 332.12h0M404.60 322.51h0M397.57 332.12h0M412.69 322.88h0M399.47 332.12h0M410.90 319.62h0M409.24 318.46h0M411.39 315.70h0M397.49 332.12h0M397.85 331.79h0M399.33 332.12h0M397.92 323.38h0M407.58 327.33h0M411.04 324.64h0M396.79 332.12h0M397.17 329.01h0M406.73 321.27h0M399.42 327.35h0M402.54 327.06h0M404.38 323.16h0M404.46 320.64h0M401.43 331.36h0M410.80 318.81h0M401.35 327.75h0M416.04 319.59h0M406.29 326.55h0M399.62 330.29h0M402.74 325.73h0M404.45 326.48h0M406.77 324.91h0M401.98 329.01h0M405.88 325.72h0M409.01 320.74h0M410.58 323.91h0M405.35 326.64h0M398.96 329.60h0M398.38 332.12h0M408.84 322.33h0M401.18 331.81h0M407.87 323.03h0M408.35 325.30h0M405.70 331.11h0M401.11 326.96h0M403.19 330.81h0M405.17 329.91h0M405.48 327.99h0M405.01 323.64h0M399.10 324.04h0M399.42 328.55h0M412.92 318.21h0M396.83 330.84h0M409.85 317.92h0M409.28 323.97h0M401.64 322.77h0M413.69 326.37h0M410.69 322.84h0M397.75 332.01h0M417.92 314.69h0M406.64 321.73h0M408.80 324.56h0M419.81 316.72h0M408.82 322.56h0M411.75 325.88h0M412.84 316.16h0M408.05 324.06h0M407.10 326.82h0M413.18 318.95h0M398.84 332.12h0M409.00 319.92h0M404.48 322.07h0M401.59 327.95h0M399.70 331.73h0M408.11 322.67h0M419.93 314.32h0M416.86 316.74h0M402.24 330.99h0M400.22 327.67h0M397.71 327.48h0M414.81 316.26h0" stroke="#1f6aa5" stroke-width="2.6" stroke-linecap="round"/>
<path d="M526.88 273.93h0M445.86 280.65h0M432.82 290.03h0M415.31 307.18h0M411.59 312.67h0M406.74 314.44h0M420.34 311.61h0M415.68 323.63h0M419.41 318.15h0M397.48 330.07h0M403.40 326.72h0M403.95 326.87h0M407.13 322.42h0M398.99 328.58h0M405.06 323.64h0M399.76 331.33h0M402.56 324.20h0M408.74 319.89h0M399.96 330.48h0M406.49 322.04h0M406.64 321.46h0M396.72 332.12h0M401.25 326.93h0M414.36 313.94h0M403.65 323.95h0M398.46 331.46h0M402.33 326.78h0M405.63 324.87h0M405.08 325.16h0M401.36 327.03h0M403.49 323.76h0M402.80 323.74h0M396.53 330.53h0M412.93 315.79h0M400.11 326.55h0M400.15 326.47h0M397.30 330.27h0M401.68 328.35h0M400.22 330.29h0M399.51 328.15h0M405.77 320.20h0M397.57 332.12h0M404.92 322.70h0M406.86 324.76h0M412.12 319.21h0M404.03 324.69h0M404.72 324.15h0M401.59 327.21h0M401.58 328.38h0M408.09 320.84h0M403.79 325.66h0M412.43 318.49h0M411.13 317.80h0M405.45 325.66h0M407.51 326.69h0M405.62 320.70h0M399.19 327.10h0M407.68 326.69h0M399.50 328.65h0M406.54 324.72h0M399.01 329.20h0M402.03 328.82h0M402.58 330.01h0M403.85 325.63h0M400.19 327.54h0M414.61 314.07h0M409.67 319.37h0M405.76 324.76h0M398.15 331.13h0M413.65 315.98h0M398.01 330.32h0M399.44 330.26h0M399.01 329.91h0M403.91 325.11h0M407.18 325.34h0M399.21 330.01h0M398.96 329.15h0M403.88 327.68h0M404.84 326.21h0M403.73 325.00h0M402.20 329.06h0M404.77 324.94h0M400.37 331.02h0M407.03 322.49h0M408.71 320.28h0M401.80 329.99h0M397.92 330.60h0M397.78 331.51h0M399.02 330.29h0M399.79 329.62h0M409.99 320.60h0M402.33 326.28h0M408.80 321.79h0M404.51 321.69h0M410.07 322.30h0M409.75 319.70h0M413.51 316.64h0M404.15 324.00h0M413.75 315.91h0M408.20 321.36h0M403.31 327.85h0M401.66 326.99h0M405.54 322.46h0M402.65 325.71h0M406.54 322.86h0M407.16 320.88h0M400.80 330.01h0M401.91 327.18h0M403.13 325.02h0M401.68 327.86h0M404.63 326.40h0M406.96 322.62h0M399.78 330.55h0M407.69 323.17h0M399.42 331.14h0M403.93 326.06h0M414.49 315.11h0M400.96 326.78h0M398.55 331.60h0M398.18 330.96h0M405.44 322.54h0M404.94 323.13h0M403.92 325.90h0M401.11 331.02h0M414.14 316.98h0M407.59 321.46h0M406.36 321.88h0M411.19 317.92h0M409.79 320.42h0M405.70 325.12h0M399.62 330.35h0M406.25 325.81h0M407.14 325.73h0M409.16 321.68h0M408.99 320.69h0M414.12 317.29h0M404.77 325.44h0M400.99 330.77h0M408.93 319.94h0" stroke="#f36e1e" stroke-width="2.6" stroke-linecap="round"/>
<line x1="396.50" y1="332.30" x2="545.50" y2="190.80" stroke="#222" stroke-width="0.95"/>
<text x="477.8" y="244.80" font-size="7.6" text-anchor="middle">y=x</text>
<circle cx="405.20" cy="197.10" r="1.3" fill="#1f6aa5"/>
<circle cx="405.20" cy="206.80" r="1.3" fill="#f36e1e"/>
<text x="415.4" y="200.20" font-size="8.2">Training period</text>
<text x="415.4" y="209.90" font-size="8.2">Testing period</text>
<text x="472.3" y="200.90" font-size="8.2" style="fill:#3a8cc6;stroke:#3a8cc6">R<tspan font-size="5.6" dy="-3.3">2</tspan><tspan dy="3.3">=0.85</tspan></text>
<text x="472.3" y="210.70" font-size="8.2" style="fill:#f4874a;stroke:#f4874a">R<tspan font-size="5.6" dy="-3.3">2</tspan><tspan dy="3.3">=0.82</tspan></text>
<text x="435.1" y="350.50" font-size="8.3">Observation<tspan dx="4.57">(</tspan><tspan dx="1.00">m</tspan><tspan font-size="4.98" dy="-3.15">3</tspan><tspan dy="3.15">/s</tspan><tspan dx="0.42">)</tspan></text>
<text transform="translate(383.0,295.60) rotate(-90)" font-size="9.30">Prediction<tspan dx="3.72">(</tspan><tspan dx="0.74">m</tspan><tspan font-size="5.58" dy="-3.53">3</tspan><tspan dy="3.53">/s</tspan><tspan dx="0.47">)</tspan></text>
<text x="376.3" y="189.00" font-size="10.2" style="stroke-width:0.2px">d.</text>
<rect x="396.50" y="372.40" width="149.00" height="141.60" fill="none" stroke="#8a8a8a" stroke-width="1"/>
<line x1="394.50" y1="514.00" x2="396.50" y2="514.00" stroke="#8a8a8a" stroke-width="0.8"/>
<text x="393.50" y="516.70" font-size="8" text-anchor="end">0</text>
<line x1="396.50" y1="514.00" x2="396.50" y2="516.00" stroke="#8a8a8a" stroke-width="0.8"/>
<text x="396.50" y="524.10" font-size="8" text-anchor="middle">0</text>
<line x1="394.50" y1="487.45" x2="396.50" y2="487.45" stroke="#8a8a8a" stroke-width="0.8"/>
<text x="393.50" y="490.15" font-size="8" text-anchor="end">15</text>
<line x1="424.44" y1="514.00" x2="424.44" y2="516.00" stroke="#8a8a8a" stroke-width="0.8"/>
<text x="424.44" y="524.10" font-size="8" text-anchor="middle">15</text>
<line x1="394.50" y1="460.90" x2="396.50" y2="460.90" stroke="#8a8a8a" stroke-width="0.8"/>
<text x="393.50" y="463.60" font-size="8" text-anchor="end">30</text>
<line x1="452.38" y1="514.00" x2="452.38" y2="516.00" stroke="#8a8a8a" stroke-width="0.8"/>
<text x="452.38" y="524.10" font-size="8" text-anchor="middle">30</text>
<line x1="394.50" y1="434.35" x2="396.50" y2="434.35" stroke="#8a8a8a" stroke-width="0.8"/>
<text x="393.50" y="437.05" font-size="8" text-anchor="end">45</text>
<line x1="480.31" y1="514.00" x2="480.31" y2="516.00" stroke="#8a8a8a" stroke-width="0.8"/>
<text x="480.31" y="524.10" font-size="8" text-anchor="middle">45</text>
<line x1="394.50" y1="407.80" x2="396.50" y2="407.80" stroke="#8a8a8a" stroke-width="0.8"/>
<text x="393.50" y="410.50" font-size="8" text-anchor="end">60</text>
<line x1="508.25" y1="514.00" x2="508.25" y2="516.00" stroke="#8a8a8a" stroke-width="0.8"/>
<text x="508.25" y="524.10" font-size="8" text-anchor="middle">60</text>
<line x1="394.50" y1="381.25" x2="396.50" y2="381.25" stroke="#8a8a8a" stroke-width="0.8"/>
<text x="393.50" y="383.95" font-size="8" text-anchor="end">75</text>
<line x1="536.19" y1="514.00" x2="536.19" y2="516.00" stroke="#8a8a8a" stroke-width="0.8"/>
<text x="536.19" y="524.10" font-size="8" text-anchor="middle">75</text>
<path d="M481.43 447.62h0M497.45 447.98h0M457.96 447.98h0M456.47 449.57h0M454.61 451.34h0M467.65 449.93h0M462.25 453.82h0M457.96 455.77h0M451.63 456.65h0M446.97 466.21h0M440.83 470.28h0M430.77 474.88h0M434.31 475.59h0M430.02 477.54h0M436.54 478.42h0M432.82 477.18h0M427.79 482.14h0M430.77 482.85h0M432.82 482.85h0M429.28 485.86h0M435.43 484.44h0M427.05 483.56h0M427.79 491.52h0M432.82 493.82h0M433.38 469.57h0M440.83 469.93h0M430.96 474.88h0M434.50 475.94h0M436.17 478.42h0M429.84 477.36h0M427.60 481.79h0M429.28 484.44h0M432.45 482.85h0M435.61 484.44h0M418.66 487.10h0M421.46 492.76h0M419.78 497.01h0M427.60 491.70h0M426.67 495.42h0M433.00 494.35h0M433.38 497.54h0M410.84 493.82h0M412.52 494.88h0M419.41 502.85h0M420.90 503.38h0M416.06 508.69h0M409.93 505.24h0M406.71 505.07h0M402.39 509.19h0M405.48 511.45h0M412.18 499.95h0M412.08 498.79h0M397.91 513.28h0M400.60 512.46h0M417.53 497.63h0M414.06 496.27h0M397.00 513.82h0M419.19 492.10h0M404.15 506.78h0M419.90 497.87h0M409.06 502.04h0M405.36 509.62h0M398.94 513.82h0M400.66 506.57h0M417.42 496.73h0M407.08 507.10h0M404.21 502.69h0M403.80 503.10h0M405.63 502.31h0M400.62 508.03h0M415.24 497.77h0M401.08 506.11h0M417.90 494.93h0M407.70 504.96h0M398.88 512.55h0M406.71 505.86h0M402.85 508.04h0M397.50 506.99h0M398.37 510.39h0M412.29 503.60h0M398.72 509.21h0M414.10 500.43h0M404.18 504.39h0M397.33 513.75h0M410.78 498.42h0M402.90 505.18h0M413.13 498.72h0M413.78 499.59h0M413.05 500.72h0M402.05 506.43h0M404.63 508.71h0M411.15 500.02h0M405.98 505.99h0M414.45 499.60h0M402.32 508.48h0M407.35 506.77h0M405.38 505.18h0M416.78 501.88h0M405.02 504.90h0M405.91 508.05h0M399.92 512.84h0M401.53 508.90h0M416.15 499.00h0M403.57 510.38h0M403.96 507.18h0M406.92 507.32h0M406.75 504.07h0M419.37 495.61h0M407.04 505.42h0M405.05 507.68h0M405.65 509.70h0M403.90 508.85h0M410.98 500.28h0M416.22 491.99h0M404.90 501.95h0M397.52 513.53h0M401.74 508.56h0M405.55 509.14h0M401.34 511.80h0M417.44 498.06h0M415.56 499.11h0M416.38 495.96h0M415.78 493.63h0M398.11 508.92h0M402.40 507.06h0M409.53 502.45h0M408.24 504.15h0M400.06 511.18h0M398.68 507.03h0M408.94 504.43h0M404.50 509.59h0M405.59 503.31h0M404.84 504.62h0M406.25 506.64h0M405.89 505.41h0M403.01 511.09h0M398.54 513.82h0M408.79 504.53h0M397.44 513.82h0M413.50 499.30h0M407.11 510.01h0M406.39 509.72h0M409.15 503.64h0M416.29 494.49h0M408.36 507.14h0M401.48 513.24h0M410.96 500.43h0M402.17 508.14h0M417.89 495.80h0M397.61 512.33h0M400.10 513.32h0M398.77 513.82h0M415.21 500.62h0M413.97 495.93h0M406.90 503.12h0M416.65 496.27h0M401.31 509.98h0M408.53 505.94h0M405.34 505.03h0M399.03 513.82h0M414.74 498.76h0M413.40 499.71h0M408.50 507.94h0M404.20 508.46h0M414.76 495.96h0M414.06 500.91h0M396.92 509.69h0M396.95 507.72h0M397.20 509.91h0M398.04 505.44h0M397.16 506.98h0M397.42 506.06h0M397.81 509.69h0M396.99 511.20h0M397.57 508.97h0M396.88 509.11h0" stroke="#1f6aa5" stroke-width="2.6" stroke-linecap="round"/>
<path d="M526.32 424.97h0M445.86 468.87h0M433.19 470.46h0M417.17 490.11h0M419.78 489.04h0M419.41 495.42h0M406.74 500.19h0M409.91 499.13h0M411.96 500.73h0M416.06 499.66h0M416.62 503.38h0M415.68 506.57h0M412.57 497.26h0M409.15 498.38h0M413.75 498.96h0M411.53 503.29h0M396.69 508.31h0M399.19 508.26h0M411.47 503.31h0M400.14 507.90h0M401.09 506.25h0M407.63 506.49h0M414.35 500.31h0M406.05 503.81h0M403.02 506.70h0M410.64 500.17h0M403.98 507.58h0M408.87 502.02h0M398.11 507.75h0M402.80 506.83h0M400.36 507.16h0M401.08 509.55h0M407.10 504.61h0M407.99 502.86h0M399.07 506.03h0M399.65 508.89h0M404.32 506.03h0M400.99 510.07h0M400.34 508.66h0M400.91 508.26h0M404.41 504.21h0M397.82 510.62h0M398.67 508.43h0M398.77 509.40h0M411.90 503.93h0M402.63 509.16h0M407.30 501.34h0M412.47 501.67h0M408.02 502.05h0M397.31 506.89h0M402.72 505.74h0M403.26 506.28h0M405.58 505.88h0M404.82 507.90h0M400.30 508.80h0M408.55 502.32h0M402.32 506.59h0M401.09 504.05h0M408.24 505.92h0M409.82 499.59h0M414.25 500.04h0M409.19 502.65h0M401.81 508.06h0M406.44 506.00h0M407.79 501.43h0M403.20 508.31h0M403.91 505.00h0M400.70 508.04h0M402.00 507.27h0M407.97 501.93h0M400.54 508.05h0M400.02 511.29h0M396.52 510.20h0M398.34 505.82h0M412.23 502.30h0M399.57 507.61h0M400.58 507.52h0M411.11 503.30h0M401.09 508.07h0M406.40 505.18h0M403.59 506.25h0M407.78 505.12h0M401.81 505.77h0M402.14 505.57h0M401.52 505.60h0M405.33 504.70h0M400.72 507.25h0M398.60 506.96h0M411.19 501.18h0M405.32 505.24h0M402.66 506.32h0M400.65 506.89h0M400.89 506.77h0M411.66 501.66h0M415.68 495.73h0M402.32 507.00h0M409.57 502.84h0M403.59 503.60h0M398.02 509.66h0M400.76 507.02h0M402.40 505.67h0M400.48 510.92h0M403.16 505.75h0M409.30 502.74h0M405.00 504.33h0M405.15 503.85h0M410.73 500.73h0" stroke="#f36e1e" stroke-width="2.6" stroke-linecap="round"/>
<line x1="396.50" y1="514.00" x2="545.50" y2="372.40" stroke="#222" stroke-width="0.95"/>
<text x="477.8" y="426.40" font-size="7.6" text-anchor="middle">y=x</text>
<circle cx="405.20" cy="378.70" r="1.3" fill="#1f6aa5"/>
<circle cx="405.20" cy="388.40" r="1.3" fill="#f36e1e"/>
<text x="415.4" y="381.80" font-size="8.2">Training period</text>
<text x="415.4" y="391.50" font-size="8.2">Testing period</text>
<text x="472.3" y="382.50" font-size="8.2" style="fill:#3a8cc6;stroke:#3a8cc6">R<tspan font-size="5.6" dy="-3.3">2</tspan><tspan dy="3.3">=0.91</tspan></text>
<text x="472.3" y="392.30" font-size="8.2" style="fill:#f4874a;stroke:#f4874a">R<tspan font-size="5.6" dy="-3.3">2</tspan><tspan dy="3.3">=0.89</tspan></text>
<text x="435.1" y="532.20" font-size="8.3">Observation<tspan dx="4.57">(</tspan><tspan dx="1.00">m</tspan><tspan font-size="4.98" dy="-3.15">3</tspan><tspan dy="3.15">/s</tspan><tspan dx="0.42">)</tspan></text>
<text transform="translate(383.0,477.20) rotate(-90)" font-size="9.30">Prediction<tspan dx="3.72">(</tspan><tspan dx="0.74">m</tspan><tspan font-size="5.58" dy="-3.53">3</tspan><tspan dy="3.53">/s</tspan><tspan dx="0.47">)</tspan></text>
<text x="376.3" y="369.40" font-size="10.2" style="stroke-width:0.2px">f.</text>
</svg></body></html>
